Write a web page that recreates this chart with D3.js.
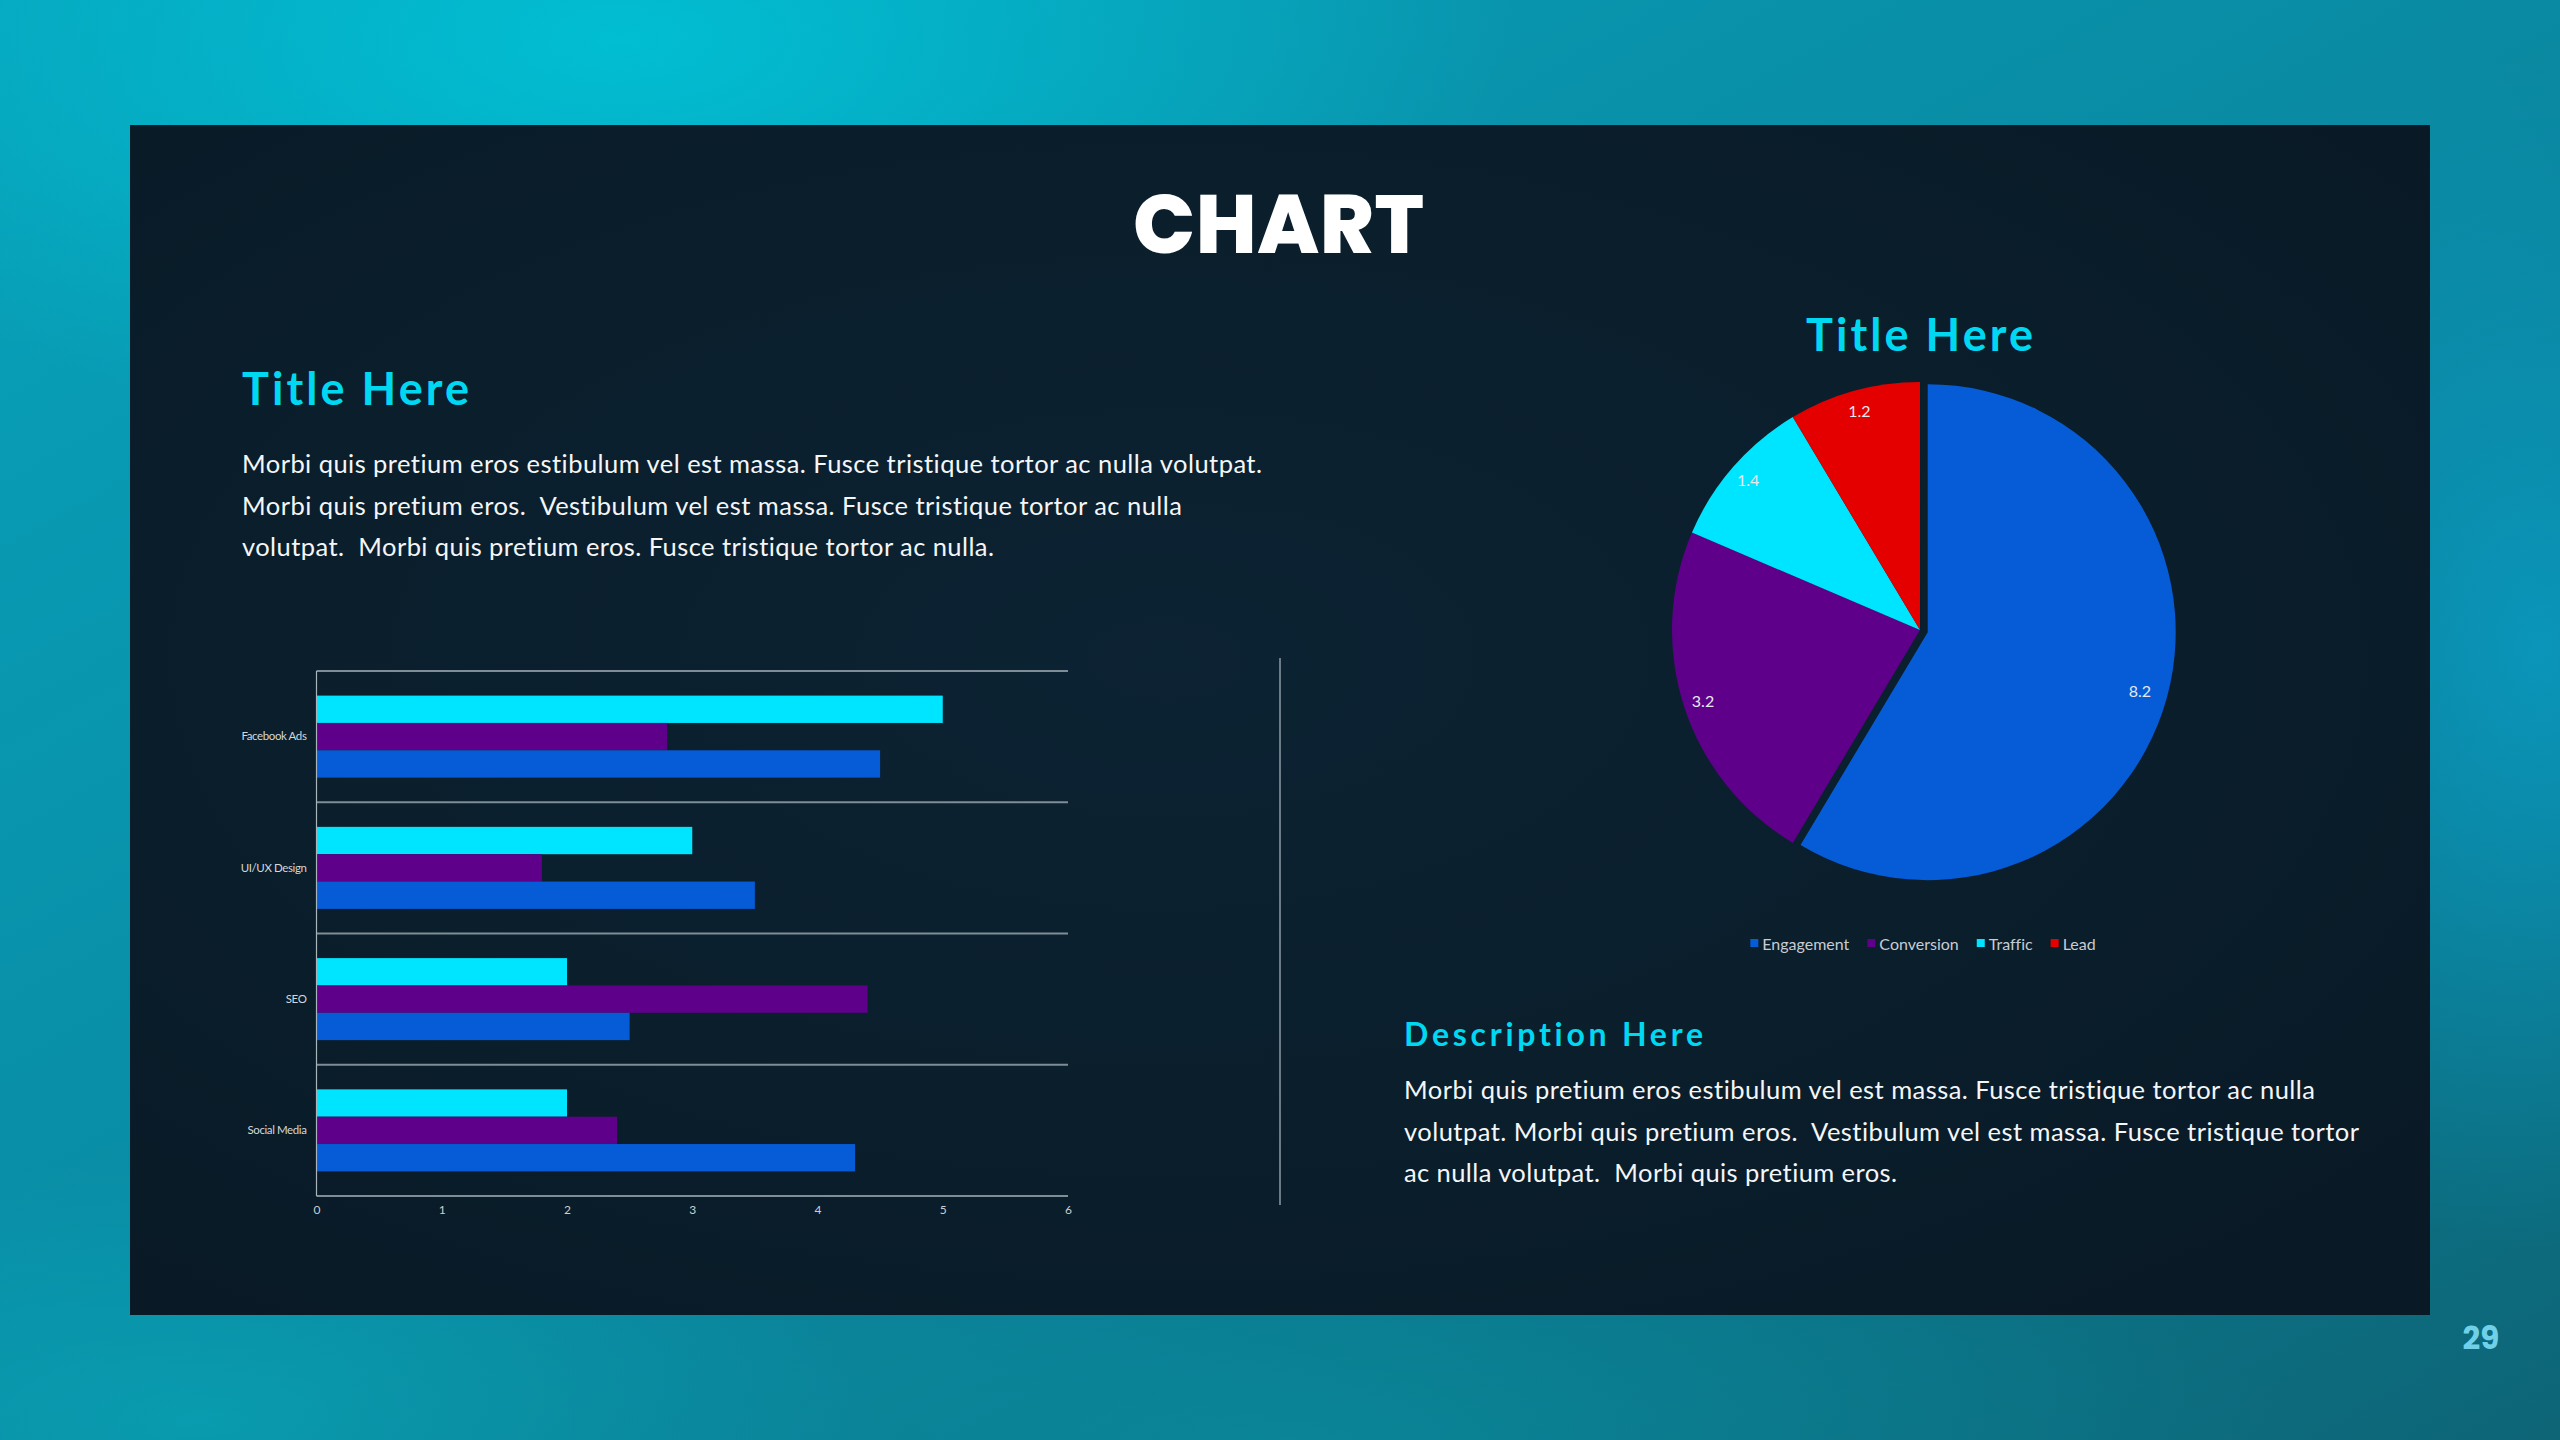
<!DOCTYPE html>
<html>
<head>
<meta charset="utf-8">
<script src="https://cdn.jsdelivr.net/npm/d3@7"></script>
<style>
  html, body { margin: 0; padding: 0; background: #0b8aa3; }
  svg { display: block; }
  text { font-variant-ligatures: none; font-feature-settings: "liga" 0, "clig" 0; }
</style>
</head>
<body>
<svg id="slide" width="2560" height="1440"></svg>
<script>
// ---------- DATA ----------
const barCategories = ["Facebook Ads", "UI/UX Design", "SEO", "Social Media"];
const barSeriesNames = ["Series 3", "Series 2", "Series 1"]; // drawn top to bottom within a group
const seriesCyan   = [5.0, 3.0, 2.0, 2.0];
const seriesPurple = [2.8, 1.8, 4.4, 2.4];
const seriesBlue   = [4.5, 3.5, 2.5, 4.3];
const xTicks = [0, 1, 2, 3, 4, 5, 6];

const pieLabels = ["Engagement", "Conversion", "Traffic", "Lead"];
const pieValues = [8.2, 3.2, 1.4, 1.2];

const slideTitle = "CHART";
const leftTitle = "Title Here";
const leftParagraph = [
  "Morbi quis pretium eros estibulum vel est massa. Fusce tristique tortor ac nulla volutpat.",
  "Morbi quis pretium eros.  Vestibulum vel est massa. Fusce tristique tortor ac nulla",
  "volutpat.  Morbi quis pretium eros. Fusce tristique tortor ac nulla."
];
const rightTitle = "Title Here";
const descTitle = "Description Here";
const rightParagraph = [
  "Morbi quis pretium eros estibulum vel est massa. Fusce tristique tortor ac nulla",
  "volutpat. Morbi quis pretium eros.  Vestibulum vel est massa. Fusce tristique tortor",
  "ac nulla volutpat.  Morbi quis pretium eros."
];
const pageNumber = "29";

// ---------- STYLE ----------
const C_CYAN = "#00e5ff", C_PURPLE = "#5e008a", C_BLUE = "#065bd6", C_RED = "#e50000";
const barColors = [C_CYAN, C_PURPLE, C_BLUE];
const pieColors = [C_BLUE, C_PURPLE, C_CYAN, C_RED];
const TITLE_CYAN = "#00d8f2";

const svg = d3.select("#slide");
const defs = svg.append("defs");

// background gradients
const lg = defs.append("linearGradient").attr("id", "bgLin")
  .attr("x1", "0").attr("y1", "0").attr("x2", "1").attr("y2", "1");
lg.append("stop").attr("offset", "0").attr("stop-color", "#07a3bb");
lg.append("stop").attr("offset", "0.5").attr("stop-color", "#0a8aa3");
lg.append("stop").attr("offset", "1").attr("stop-color", "#0d6576");

function radial(id, color, op) {
  const g = defs.append("radialGradient").attr("id", id);
  g.append("stop").attr("offset", "0").attr("stop-color", color).attr("stop-opacity", op);
  g.append("stop").attr("offset", "1").attr("stop-color", color).attr("stop-opacity", 0);
}
radial("glowTL", "#00c4d8", 0.85);
radial("glowR", "#0a9cc4", 0.8);
radial("glowBL", "#08a8b8", 0.6);
radial("glowB", "#0a8fa0", 0.55);

svg.append("rect").attr("width", 2560).attr("height", 1440).attr("fill", "url(#bgLin)");
svg.append("ellipse").attr("cx", 620).attr("cy", 40).attr("rx", 900).attr("ry", 420).attr("fill", "url(#glowTL)");
svg.append("ellipse").attr("cx", 2540).attr("cy", 650).attr("rx", 420).attr("ry", 600).attr("fill", "url(#glowR)");
svg.append("ellipse").attr("cx", 200).attr("cy", 1420).attr("rx", 700).attr("ry", 260).attr("fill", "url(#glowBL)");
svg.append("ellipse").attr("cx", 1300).attr("cy", 1440).attr("rx", 1000).attr("ry", 220).attr("fill", "url(#glowB)");

// panel
const pg = defs.append("radialGradient").attr("id", "panelGrad")
  .attr("cx", "0.45").attr("cy", "0.45").attr("r", "0.7");
pg.append("stop").attr("offset", "0").attr("stop-color", "#0c2333");
pg.append("stop").attr("offset", "1").attr("stop-color", "#091a26");
svg.append("rect").attr("x", 130).attr("y", 125).attr("width", 2300).attr("height", 1190)
  .attr("fill", "url(#panelGrad)");

// ---------- TEXT ----------
svg.append("text").text(slideTitle)
  .attr("x", 1133).attr("y", 253)
  .attr("textLength", 291).attr("lengthAdjust", "spacing")
  .style("font-family", "Poppins, Inter, 'Open Sans', sans-serif")
  .style("font-weight", 800).style("font-size", "82px").attr("fill", "#ffffff");

svg.append("text").text(leftTitle)
  .attr("x", 242).attr("y", 405)
  .attr("textLength", 227).attr("lengthAdjust", "spacing")
  .style("font-family", "Lato, sans-serif").style("font-weight", 700)
  .style("font-size", "45px").attr("fill", TITLE_CYAN);

const leftWidths = [1020, 940, 752];
svg.append("g").selectAll("text").data(leftParagraph).join("text")
  .text(d => d)
  .attr("x", 242).attr("y", (d, i) => 473 + i * 41.5)
  .attr("textLength", (d, i) => leftWidths[i]).attr("lengthAdjust", "spacing")
  .style("font-family", "Lato, sans-serif").style("font-size", "25.5px")
  .attr("fill", "#f4f6f8").style("white-space", "pre");

svg.append("text").text(rightTitle)
  .attr("x", 1806).attr("y", 351)
  .attr("textLength", 227).attr("lengthAdjust", "spacing")
  .style("font-family", "Lato, sans-serif").style("font-weight", 700)
  .style("font-size", "45px").attr("fill", TITLE_CYAN);

svg.append("text").text(descTitle)
  .attr("x", 1404).attr("y", 1046)
  .attr("textLength", 299).attr("lengthAdjust", "spacing")
  .style("font-family", "Lato, sans-serif").style("font-weight", 700)
  .style("font-size", "32px").attr("fill", TITLE_CYAN);

const rightWidths = [911, 955, 493];
svg.append("g").selectAll("text").data(rightParagraph).join("text")
  .text(d => d)
  .attr("x", 1404).attr("y", (d, i) => 1099 + i * 41.5)
  .attr("textLength", (d, i) => rightWidths[i]).attr("lengthAdjust", "spacing")
  .style("font-family", "Lato, sans-serif").style("font-size", "25.5px")
  .attr("fill", "#f4f6f8").style("white-space", "pre");

svg.append("text").text(pageNumber)
  .attr("x", 2481).attr("y", 1349).attr("text-anchor", "middle")
  .style("font-family", "Poppins, Inter, sans-serif").style("font-weight", 700)
  .style("font-size", "31px").attr("fill", "#70d0e8");

// divider
svg.append("line").attr("x1", 1280).attr("x2", 1280).attr("y1", 658).attr("y2", 1205)
  .attr("stroke", "#8d9ba4").attr("stroke-width", 1.5);

// ---------- BAR CHART ----------
const bar = { left: 316.5, right: 1068, top: 671, bottom: 1196 };
const x = d3.scaleLinear().domain([0, 6]).range([bar.left, bar.right]);
const y = d3.scaleBand().domain(barCategories).range([bar.top, bar.bottom]).paddingInner(0).paddingOuter(0);
const ySub = d3.scaleBand().domain(barSeriesNames).range([0, y.bandwidth()]).paddingInner(0).paddingOuter(0.9);
const seriesValues = [seriesCyan, seriesPurple, seriesBlue];

const gBar = svg.append("g");
const boundaries = barCategories.map(c => y(c)).concat([bar.bottom]);
gBar.selectAll("line.grid").data(boundaries).join("line")
  .attr("class", "grid")
  .attr("x1", bar.left).attr("x2", bar.right)
  .attr("y1", d => d).attr("y2", d => d)
  .attr("stroke", "#7f8d96").attr("stroke-width", 2);

barSeriesNames.forEach((s, si) => {
  gBar.append("g").selectAll("rect").data(barCategories).join("rect")
    .attr("x", x(0))
    .attr("y", c => y(c) + ySub(s))
    .attr("width", (c, ci) => x(seriesValues[si][ci]) - x(0))
    .attr("height", ySub.bandwidth())
    .attr("fill", barColors[si]);
});

gBar.append("line").attr("x1", bar.left).attr("x2", bar.left)
  .attr("y1", bar.top).attr("y2", bar.bottom)
  .attr("stroke", "#a9b3ba").attr("stroke-width", 1.2);

const xAxis = d3.axisBottom(x).tickValues(xTicks).tickSize(0).tickPadding(9).tickFormat(d3.format("d"));
const gx = gBar.append("g").attr("transform", `translate(0,${bar.bottom})`).call(xAxis);
gx.select(".domain").remove();
gx.selectAll("text").style("font-family", "Lato, sans-serif").style("font-size", "12px").attr("fill", "#c9cfd4");

const yAxis = d3.axisLeft(y).tickSize(0).tickPadding(10);
const gy = gBar.append("g").attr("transform", `translate(${bar.left},0)`).call(yAxis);
gy.select(".domain").remove();
gy.selectAll("text").style("font-family", "Lato, sans-serif").style("font-size", "11.5px")
  .style("letter-spacing", "-0.4px").attr("fill", "#d3d8dc");

// ---------- PIE ----------
const cx = 1920, cy = 630, R = 248;
const pie = d3.pie().sort(null).startAngle(0).endAngle(2 * Math.PI)(pieValues);
const arc = d3.arc().innerRadius(0).outerRadius(R);
const gPie = svg.append("g").attr("transform", `translate(${cx},${cy})`);
const explode = [8, 0, 0, 0];
gPie.selectAll("path").data(pie).join("path")
  .attr("d", arc)
  .attr("fill", (d, i) => pieColors[i])
  .attr("transform", (d, i) => {
    const a = (d.startAngle + d.endAngle) / 2;
    return `translate(${Math.sin(a) * explode[i]},${-Math.cos(a) * explode[i]})`;
  });
gPie.selectAll("text").data(pie).join("text")
  .text(d => d.data)
  .attr("x", (d, i) => Math.sin((d.startAngle + d.endAngle) / 2) * (R * 0.92))
  .attr("y", (d, i) => -Math.cos((d.startAngle + d.endAngle) / 2) * (R * 0.92))
  .attr("text-anchor", "middle").attr("dominant-baseline", "central")
  .style("font-family", "Lato, sans-serif").style("font-size", "16px").attr("fill", "#e6e9ec");

// legend
const gLeg = svg.append("g");
const items = gLeg.selectAll("g").data(pieLabels).join("g");
items.append("rect").attr("width", 8).attr("height", 8).attr("y", -4).attr("fill", (d, i) => pieColors[i]);
items.append("text").text(d => d).attr("x", 12).attr("dominant-baseline", "central")
  .style("font-family", "Lato, sans-serif").style("font-size", "16px").attr("fill", "#c7cdd2");
let lx = 0;
items.each(function () {
  const w = d3.select(this).select("text").node().getComputedTextLength();
  d3.select(this).attr("transform", `translate(${lx},0)`);
  lx += 12 + w + 18;
});
const totalW = lx - 18;
gLeg.attr("transform", `translate(${1923 - totalW / 2},943)`);
</script>
</body>
</html>
